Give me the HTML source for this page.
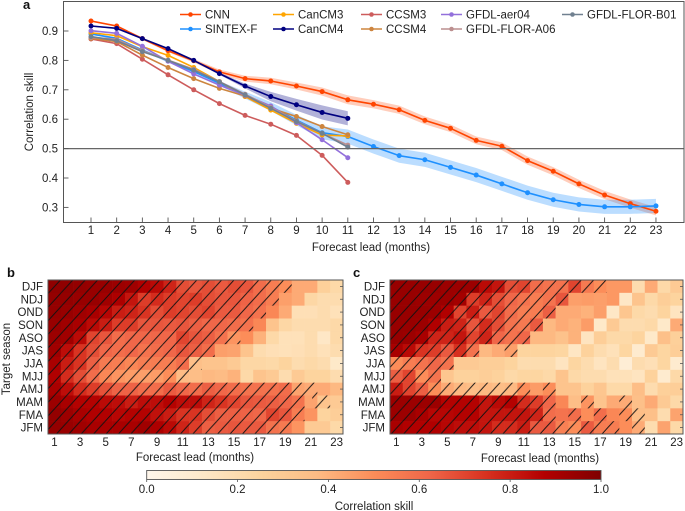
<!DOCTYPE html>
<html lang="en">
<head>
<meta charset="utf-8">
<title>Correlation skill chart</title>
<style>
html,body{margin:0;padding:0;background:#fff;width:685px;height:511px;overflow:hidden}
svg{display:block;font-family:"Liberation Sans",Arial,sans-serif;fill:#222}
text{font-size:11.5px}
</style>
</head>
<body>
<svg id="chart" xmlns="http://www.w3.org/2000/svg" width="685" height="511" viewBox="0 0 685 511">
<defs>
<pattern id="hatch" patternUnits="userSpaceOnUse" width="12.4" height="13.6" x="48" y="280">
<path d="M-1.24 1.36L1.24 -1.36M0 13.6L12.4 0M11.16 14.96L13.64 12.24" stroke="#111" stroke-width="0.9" fill="none"/>
</pattern>
<linearGradient id="orrd">
<stop offset="0" stop-color="#fff7ec"/><stop offset="0.125" stop-color="#fee8c8"/><stop offset="0.25" stop-color="#fdd49e"/><stop offset="0.375" stop-color="#fdbb84"/><stop offset="0.5" stop-color="#fc8d59"/><stop offset="0.625" stop-color="#ef6548"/><stop offset="0.75" stop-color="#d7301f"/><stop offset="0.875" stop-color="#b30000"/><stop offset="1" stop-color="#7f0000"/>
</linearGradient>
</defs>
</svg>
<script>
const leads = [1,2,3,4,5,6,7,8,9,10,11,12,13,14,15,16,17,18,19,20,21,22,23];
const yTicks = [0.3,0.4,0.5,0.6,0.7,0.8,0.9];
const seriesNames = ["CNN","SINTEX-F","CanCM3","CanCM4","CCSM3","CCSM4","GFDL-aer04","GFDL-FLOR-A06","GFDL-FLOR-B01"];
const cnn = [.934,.917,.874,.833,.799,.761,.738,.73,.713,.694,.666,.651,.632,.596,.569,.528,.508,.459,.423,.38,.342,.313,.287];
const sintex = [.89,.875,.835,.798,.762,.722,.682,.643,.597,.554,.541,.507,.476,.462,.436,.41,.38,.35,.326,.31,.302,.302,.305];
const cancm3 = [.894,.884,.847,.817,.776,.728,.677,.631,.586,.546,.543];
const cancm4 = [.917,.909,.874,.84,.8,.755,.713,.677,.649,.623,.603];
const ccsm3 = [.873,.857,.804,.751,.7,.653,.613,.583,.545,.477,.385];
const ccsm4 = [.875,.864,.818,.776,.738,.705,.679,.637,.609,.575,.547];
const aer04 = [.901,.892,.848,.797,.754,.716,.682,.645,.588,.53,.469];
const florA06 = [.878,.872,.833,.801,.77,.728,.685,.64,.594,.552,.512];
const florB01 = [.881,.867,.83,.8,.767,.727,.683,.637,.592,.552,.505];
const cnnBand = [.003,.003,.004,.005,.006,.008,.01,.011,.012,.014,.015,.014,.014,.013,.013,.013,.013,.014,.014,.014,.014,.014,.014];
const sintexBand = [.003,.003,.004,.005,.006,.008,.012,.015,.018,.022,.024,.024,.024,.024,.024,.024,.024,.024,.024,.024,.024,.024,.024];
const cancm4Band = [.002,.002,.002,.002,.003,.004,.008,.016,.02,.024,.024];
const threshold = [0.5];
const seasons = ["DJF","NDJ","OND","SON","ASO","JAS","JJA","MJJ","AMJ","MAM","FMA","JFM"];
const heatLeadTicks = [1,3,5,7,9,11,13,15,17,19,21,23];
const colorbarTicks = [0,0.2,0.4,0.6,0.8,1];
const heatB = [
[.96,.96,.95,.94,.94,.93,.92,.88,.85,.78,.68,.66,.68,.65,.68,.66,.6,.55,.5,.42,.42,.27,.22],
[.95,.95,.94,.94,.92,.89,.82,.72,.76,.72,.7,.72,.68,.66,.66,.63,.6,.55,.45,.42,.23,.2,.2],
[.95,.94,.92,.9,.86,.8,.78,.74,.68,.72,.7,.68,.7,.65,.65,.62,.58,.52,.42,.18,.18,.2,.17],
[.94,.92,.9,.85,.8,.72,.72,.66,.66,.65,.66,.64,.62,.62,.6,.58,.52,.33,.23,.2,.2,.2,.22],
[.93,.92,.85,.7,.66,.6,.62,.62,.62,.62,.7,.66,.64,.58,.48,.5,.4,.22,.17,.17,.2,.13,.22],
[.92,.84,.74,.68,.62,.6,.62,.58,.6,.62,.66,.64,.6,.45,.44,.33,.2,.18,.17,.18,.2,.17,.2],
[.9,.8,.74,.64,.56,.55,.52,.55,.55,.55,.6,.35,.33,.33,.3,.23,.23,.22,.25,.2,.22,.2,.12],
[.88,.76,.68,.6,.52,.48,.46,.45,.46,.5,.37,.36,.38,.37,.4,.22,.33,.3,.2,.3,.25,.25,.2],
[.9,.84,.76,.72,.67,.63,.63,.6,.6,.65,.62,.6,.64,.62,.6,.58,.58,.58,.6,.44,.42,.42,.38],
[.93,.9,.87,.87,.85,.84,.8,.84,.84,.87,.84,.84,.78,.74,.7,.66,.65,.64,.62,.58,.44,.33,.3],
[.95,.93,.9,.88,.88,.86,.87,.87,.83,.8,.74,.74,.68,.64,.64,.63,.62,.7,.66,.55,.48,.25,.28],
[.95,.94,.92,.9,.9,.9,.9,.92,.89,.85,.78,.72,.64,.65,.66,.65,.65,.58,.56,.48,.3,.3,.22]
];
const heatC = [
[.94,.94,.94,.94,.93,.93,.93,.85,.82,.68,.7,.6,.58,.58,.7,.56,.5,.47,.47,.2,.42,.22,.3],
[.94,.94,.93,.93,.93,.91,.72,.78,.68,.62,.58,.55,.58,.66,.45,.46,.45,.47,.13,.33,.22,.28,.25],
[.94,.94,.94,.93,.88,.7,.8,.65,.7,.6,.55,.55,.64,.42,.42,.4,.45,.13,.32,.22,.2,.25,.15],
[.94,.94,.93,.88,.8,.78,.66,.76,.68,.58,.56,.65,.38,.42,.4,.46,.12,.3,.2,.2,.22,.12,.42],
[.94,.93,.9,.78,.78,.82,.7,.78,.62,.58,.62,.38,.38,.34,.4,.15,.28,.22,.22,.25,.12,.35,.27],
[.9,.85,.74,.72,.65,.75,.58,.38,.42,.45,.25,.25,.25,.24,.14,.26,.2,.17,.24,.1,.3,.24,.28],
[.5,.55,.58,.62,.58,.3,.3,.28,.28,.25,.2,.2,.2,.15,.24,.2,.15,.2,.08,.2,.18,.24,.1],
[.64,.7,.5,.58,.32,.26,.26,.28,.26,.22,.24,.24,.22,.33,.22,.2,.2,.17,.17,.15,.26,.1,.22],
[.8,.7,.64,.5,.42,.38,.36,.38,.36,.38,.5,.46,.5,.33,.33,.26,.32,.22,.22,.36,.2,.27,.28],
[.93,.93,.93,.93,.87,.87,.87,.82,.85,.87,.76,.72,.62,.52,.36,.48,.33,.42,.42,.35,.42,.3,.22],
[.93,.93,.9,.86,.86,.87,.87,.82,.82,.82,.82,.78,.6,.58,.6,.5,.6,.52,.5,.36,.35,.2,.44],
[.9,.88,.88,.88,.86,.84,.84,.82,.76,.76,.8,.65,.65,.54,.5,.65,.55,.55,.5,.42,.2,.44,.22]
];
const hatchB = [[[0,19]],[[0,18]],[[0,17]],[[0,16]],[[0,15]],[[0,13]],[[0,12]],[[0,11]],[[0,21]],[[0,20],[20.6,22]],[[0,20]],[[0,19]]];
const hatchC = [[[0,17]],[[0,14]],[[0,13]],[[0,12]],[[0,11]],[[0,7],[9,10]],[[0,5]],[[0,4]],[[0,11],[12,13]],[[0,13],[15,16],[18,19]],[[0,13],[14,15],[16,17],[18,20]],[[0,18],[19,20]]];

const NS = 'http://www.w3.org/2000/svg';
const svg = document.getElementById('chart');
function mk(tag, attrs, parent, txt){
  const e = document.createElementNS(NS, tag);
  for (const k in attrs) e.setAttribute(k, attrs[k]);
  if (txt !== undefined) e.textContent = txt;
  (parent || svg).appendChild(e);
  return e;
}
const FRAME = '#555';
// axis functions panel a
const ax = {l:63.5, r:684, t:1.5, b:222.5};
const xA = v => 91 + (v - 1) * 25.68;
const yA = v => 31 + (0.9 - v) * 294;

const panelA = mk('g', {});



function band(vals, hw, color, name){
  const up = vals.map((v,i)=> xA(leads[i]) + ',' + yA(v + hw[i]));
  const dn = vals.map((v,i)=> xA(leads[i]) + ',' + yA(v - hw[i])).reverse();
  const p = mk('polygon', {points: up.concat(dn).join(' '), fill: color, 'fill-opacity': 0.3, stroke: 'none'}, panelA);
  
  
}
band(cnn, cnnBand, '#ff5a1e', 'cnn-confidence-band');
band(sintex, sintexBand, '#1e90ff', 'sintex-confidence-band');
band(cancm4, cancm4Band, '#000080', 'cancm4-confidence-band');

const seriesValues = [cnn, sintex, cancm3, cancm4, ccsm3, ccsm4, aer04, florA06, florB01];
const seriesColors = ['#ff4500','#1e90ff','#ffa500','#000080','#cd5c5c','#cd853f','#9370db','#bc8f8f','#708090'];
seriesValues.forEach((vals, s) => {
  const slug = seriesNames[s].toLowerCase();
  const g = mk('g', {}, panelA);
  
  
  mk('polyline', {points: vals.map((v,i)=> xA(leads[i]) + ',' + yA(v)).join(' '), fill:'none', stroke: seriesColors[s], 'stroke-width':1.6, 'stroke-linejoin':'round'}, g);
  vals.forEach((v,i) => mk('circle', {cx:xA(leads[i]), cy:yA(v), r:2.5, fill:seriesColors[s]}, g));
});

// reference line at 0.5
threshold.forEach(v => {
  const l = mk('line', {x1:ax.l, x2:ax.r, y1:yA(v), y2:yA(v), stroke:'#666', 'stroke-width':1.3}, panelA);
  
  
});

// frame
const frameA = mk('rect', {x:ax.l, y:ax.t, width:ax.r-ax.l, height:ax.b-ax.t, fill:'none', stroke:FRAME, 'stroke-width':1}, panelA);



// ticks
leads.forEach(v => {
  mk('line', {x1:xA(v), x2:xA(v), y1:ax.b, y2:ax.b-5, stroke:FRAME, 'stroke-width':0.9}, panelA);
  const t = mk('text', {x:xA(v), y:234, 'text-anchor':'middle'}, panelA, String(v));
  
  
});
yTicks.forEach(v => {
  mk('line', {x1:ax.l, x2:ax.l+5, y1:yA(v), y2:yA(v), stroke:FRAME, 'stroke-width':0.9}, panelA);
  const t = mk('text', {x:58, y:yA(v)+4, 'text-anchor':'end'}, panelA, v.toFixed(1));
  
  
});
const xTitleA = mk('text', {x:371, y:251, 'text-anchor':'middle'}, panelA, 'Forecast lead (months)');


const yTitleA = mk('text', {transform:'translate(33,112) rotate(-90)', 'text-anchor':'middle'}, panelA, 'Correlation skill');



// legend
const legendSlots = [[180,14.5],[180,29],[273,14.5],[273,29],[361,14.5],[361,29],[441,14.5],[441,29],[562,14.5]];
const legend = mk('g', {}, panelA);


seriesNames.forEach((n, s) => {
  const [lx, ly] = legendSlots[s];
  const g = mk('g', {}, legend);
  
  
  mk('line', {x1:lx, x2:lx+21, y1:ly, y2:ly, stroke:seriesColors[s], 'stroke-width':1.5}, g);
  mk('circle', {cx:lx+10.5, cy:ly, r:2.3, fill:seriesColors[s]}, g);
  mk('text', {x:lx+25, y:ly+4}, g, n);
});

// panel letters
[['a',23,9],['b',7,277],['c',353,277]].forEach(([c,x,y]) => {
  const t = mk('text', {x:x, y:y, 'font-weight':'bold', style:'font-size:13px', fill:'#111'}, svg, c);
  
  
});

// OrRd colormap
const cmapStops = [[255,247,236],[254,232,200],[253,212,158],[253,187,132],[252,141,89],[239,101,72],[215,48,31],[179,0,0],[127,0,0]];
function cmap(v){
  const p = Math.max(0, Math.min(0.9999, v)) * (cmapStops.length - 1);
  const i = Math.floor(p), f = p - i;
  const a = cmapStops[i], b = cmapStops[i + 1];
  return 'rgb(' + a.map((c,k)=> Math.round(c + (b[k]-c)*f)).join(',') + ')';
}

function heatmap(name, data, hatch, x0, x1, y0, y1, labelX, titleX, titleY){
  const g = mk('g', {});
  
  
  const cw = (x1 - x0) / 23, ch = (y1 - y0) / seasons.length;
  const xH = c => x0 + c * cw;
  const yH = r => y0 + r * ch;
  data.forEach((row, r) => row.forEach((v, c) => {
    const cell = mk('rect', {x:xH(c), y:yH(r), width:cw+0.3, height:ch+0.3, fill:cmap(v)}, g);
    
    
  }));
  hatch.forEach((spans, r) => spans.forEach(([a, b]) => {
    const h = mk('rect', {x:xH(a), y:yH(r), width:(b-a)*cw, height:ch, fill:'url(#hatch)'}, g);
    
    
  }));
  const f = mk('rect', {x:x0, y:y0, width:x1-x0, height:y1-y0, fill:'none', stroke:FRAME, 'stroke-width':1}, g);
  
  
  seasons.forEach((s, r) => {
    const cy = yH(r) + ch / 2;
    mk('line', {x1:x1-3, x2:x1, y1:cy, y2:cy, stroke:FRAME, 'stroke-width':0.8}, g);
    const t = mk('text', {x:labelX, y:cy+4, 'text-anchor':'end'}, g, s);
    
    
  });
  heatLeadTicks.forEach(v => {
    const t = mk('text', {x:xH(v-0.5), y:446, 'text-anchor':'middle'}, g, String(v));
    
    
  });
  const tt = mk('text', {x:titleX, y:titleY, 'text-anchor':'middle'}, g, 'Forecast lead (months)');
  
  
}
heatmap('panel-b-heatmap', heatB, hatchB, 48, 343, 280, 434, 43, 195, 461);
heatmap('panel-c-heatmap', heatC, hatchC, 390, 683, 280, 434, 385, 540, 462);

const ySeason = mk('text', {transform:'translate(10,359) rotate(-90)', 'text-anchor':'middle'}, svg, 'Target season');



// colorbar
const cbar = mk('g', {});


const xC = v => 146.7 + v * 454.3;
mk('rect', {x:xC(0), y:470.5, width:xC(1)-xC(0), height:9, fill:'url(#orrd)', stroke:FRAME, 'stroke-width':0.9}, cbar);
colorbarTicks.forEach(v => {
  mk('line', {x1:xC(v), x2:xC(v), y1:479.5, y2:482, stroke:FRAME, 'stroke-width':0.8}, cbar);
  const t = mk('text', {x:xC(v), y:493, 'text-anchor':'middle'}, cbar, v.toFixed(1));
  
  
});
const cbTitle = mk('text', {x:374, y:510, 'text-anchor':'middle'}, cbar, 'Correlation skill');


</script>
</body>
</html>
